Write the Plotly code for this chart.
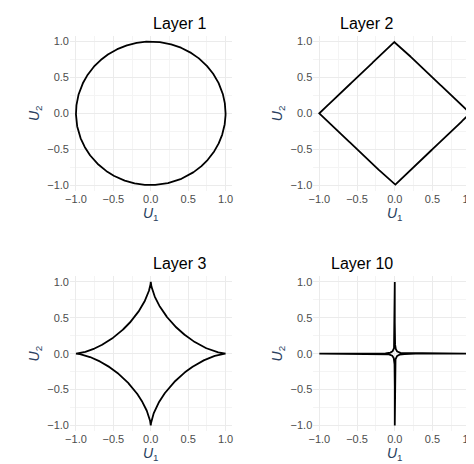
import numpy as np
import plotly.graph_objects as go
from plotly.subplots import make_subplots

# layer number k: curve x = cos(t)^k, y = sin(t)^k (signed)
layers = [1, 2, 3, 10]
titles = ["Layer 1", "Layer 2", "Layer 3", "Layer 10"]
ticks = [-1.0, -0.5, 0.0, 0.5, 1.0]

fig = make_subplots(rows=2, cols=2, horizontal_spacing=0.18, vertical_spacing=0.18)

t = np.linspace(0, 2 * np.pi, 4001)
for i, k in enumerate(layers):
    c, s = np.cos(t), np.sin(t)
    x = np.sign(c) * np.abs(c) ** k
    y = np.sign(s) * np.abs(s) ** k
    fig.add_trace(go.Scatter(x=x, y=y, mode="lines", line=dict(color="black", width=1.8),
                             showlegend=False), row=i // 2 + 1, col=i % 2 + 1)

xdom = [[0.122, 0.468], [0.643, 0.992]]
ydom = [[0.606, 0.94], [0.088, 0.422]]
font = "Liberation Sans, Arial, sans-serif"
for i in range(4):
    r, cc = i // 2, i % 2
    n = "" if i == 0 else str(i + 1)
    common = dict(range=[-1.08, 1.08], tickvals=ticks, tickformat=".1f", showline=False,
                  zeroline=False, gridcolor="#ebebeb", gridwidth=1.2, ticks="",
                  tickfont=dict(size=11, color="#4d4d4d", family=font),
                  minor=dict(tickvals=[-0.75, -0.25, 0.25, 0.75], showgrid=True,
                             gridcolor="#f4f4f4", gridwidth=0.8))
    fig.layout["xaxis" + n].update(domain=xdom[cc], **common,
                                   title=dict(text="<i>U</i><sub>1</sub>", standoff=2,
                                              font=dict(size=14, family=font)))
    fig.layout["yaxis" + n].update(domain=ydom[r], **common,
                                   title=dict(text="<i>U</i><sub>2</sub>", standoff=4,
                                              font=dict(size=14, family=font)))
    fig.add_annotation(text=titles[i], x=sum(xdom[cc]) / 2, y=ydom[r][1], xref="paper",
                       yref="paper", yanchor="bottom", showarrow=False, yshift=2,
                       font=dict(size=16, family=font, color="black"))

fig.update_layout(width=474, height=464, margin=dict(l=0, r=0, t=0, b=0),
                  plot_bgcolor="white", paper_bgcolor="white", font=dict(family=font))
fig.write_html("out.html")
